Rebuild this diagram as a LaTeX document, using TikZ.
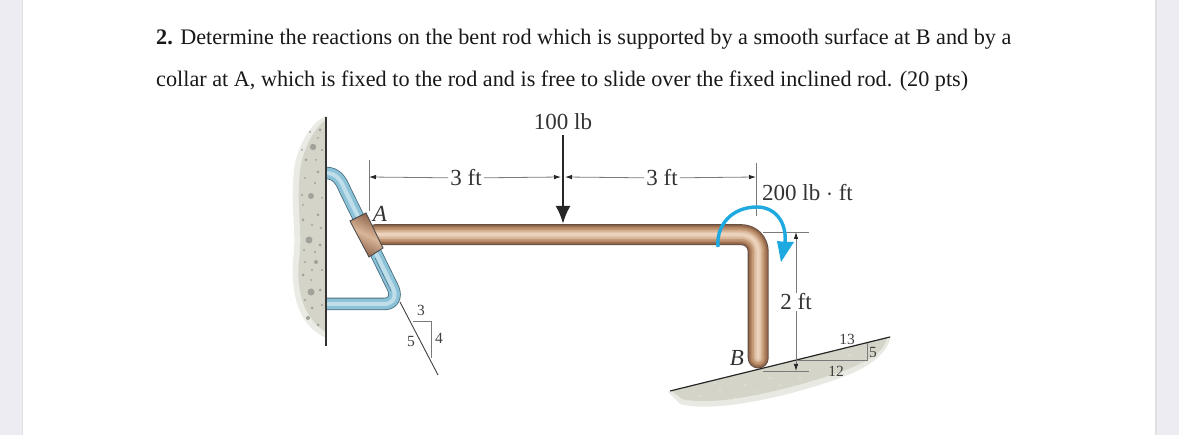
\documentclass[tikz,border=0pt]{standalone}
\usepackage{fontspec}
\setmainfont{Liberation Serif}
\usetikzlibrary{arrows.meta}
\definecolor{copperD}{HTML}{5E4E42}
\definecolor{copperS}{HTML}{8A6048}
\definecolor{copperM}{HTML}{B58662}
\definecolor{copperL}{HTML}{D9B597}
\definecolor{copperH}{HTML}{EBD2BC}
\definecolor{blueD}{HTML}{4A7082}
\definecolor{blueM}{HTML}{8CC2D8}
\definecolor{blueL}{HTML}{BFDEEA}
\definecolor{concrete}{HTML}{D4D4C8}
\definecolor{speck}{HTML}{A2A29A}
\definecolor{moment}{HTML}{1FA9E1}
\definecolor{dimc}{HTML}{7A7A7A}
\definecolor{sideband}{HTML}{ECECF2}
\tikzset{
  x=1pt,y=-1pt,
  heading/.style={anchor=base west,inner sep=0pt,font=\fontsize{22.2}{26}\selectfont,text=black!90},
  lab/.style={inner sep=0pt,font=\fontsize{23}{26}\selectfont,text=black!80},
  itlab/.style={inner sep=0pt,font=\fontsize{23}{26}\selectfont\itshape,text=black!80},
  smalllab/.style={inner sep=0pt,font=\fontsize{15.5}{18}\selectfont,text=black!75},
  dimline/.style={draw=dimc,line width=0.8pt},
  dimarrow/.style={dimline,-{Latex[length=7pt,width=4.5pt,color=black!85]}},
  rodlayer/.style={line cap=round,line join=round},
}
\newcommand{\rodpath}{(375,234.7) -- (741,234.7) .. controls (751,234.7) and (758.2,242) .. (758.2,252) -- (758.2,358)}
\newcommand{\tubepath}{(326,173) .. controls (336,173) and (341,180) .. (345,190) -- (393,288) .. controls (397,297) and (393,304) .. (384,304) -- (326,304)}
\begin{document}
\begin{tikzpicture}
\useasboundingbox (0,0) rectangle (1179,435);
\fill[white] (0,0) rectangle (1179,435);
\fill[sideband] (1157,0) rectangle (1179,435);
\fill[sideband] (0,0) rectangle (22,435);
\fill[black!12] (1155,0) rectangle (1157,435);
\fill[black!12] (22,0) rectangle (23,435);
% heading
\node[heading] (t1) at (156,44.5) {\textbf{2.} Determine the reactions on the bent rod which is supported by a smooth surface at B and by a};
\node[heading] (t2) at (156,87) {collar at A, which is fixed to the rod and is free to slide over the fixed inclined rod. (20 pts)};
% wall
\fill[concrete,opacity=.45] (326,116) .. controls (310,122) and (296,150) .. (294,170) .. controls (290,210) and (297,230) .. (293,260) .. controls (291,295) and (298,325) .. (326,338) -- cycle;
\fill[concrete] (326,120) .. controls (314,127) and (303,150) .. (300,170) .. controls (296,210) and (303,230) .. (299,260) .. controls (296,290) and (303,318) .. (326,332) -- cycle;
\foreach \a/\b/\r in {313/147/3.2,306/160/1.5,311/196/3,318/172/1.5,309/240/3.5,303/220/1.5,318/215/1.5,316/262/2,311/292/3.5,303/275/1.5,320/290/1.5,308/318/2,318/325/1.5,320/130/1.5,302/195/1.2,305/300/1.2,320/245/1.5,312/270/1.2,322/150/1.2,305/178/1,315/183/1.2,322/198/1,303/205/1,312/225/1.2,321/228/1.2,304/250/1.2,315/252/1.2,322/270/1.2,305/262/1,311/280/1,322/305/1.2,312/308/1.5,318/138/1,310/132/1,302/150/1,316/160/1}{
  \fill[speck] (\a,\b) circle (\r);
}
% inclined fixed rod
\coordinate (tip) at (438,375);
\draw[black!75,line width=0.9pt] (400,302) -- (tip);
\draw[blueD,line width=12.5pt,line join=round] \tubepath;
\draw[blueM,line width=10.8pt,line join=round] \tubepath;
\draw[blueL,line width=4pt,line join=round] \tubepath;
\draw[blueD,line width=0.5pt] (375,258) -- (391,291);
% wall line
\draw[black!80,line width=1.2pt] (326,117) -- (326,346);
% slope triangle 3-4-5
\draw[dimline] (413,321) -- (431,321) -- (431,358);
% bent rod, layered so the shading follows the bend
\draw[copperD,line width=21pt,rodlayer] \rodpath;
\draw[copperS,line width=19.4pt,rodlayer] \rodpath;
\draw[copperS!60!copperM,line width=17.5pt,rodlayer] \rodpath;
\draw[copperM,line width=15pt,rodlayer] \rodpath;
\draw[copperM!60!copperL,line width=12pt,rodlayer] \rodpath;
\draw[copperL,line width=8.5pt,rodlayer] \rodpath;
\draw[copperL!50!copperH,line width=5.5pt,rodlayer] \rodpath;
\draw[copperH,line width=3pt,rodlayer] \rodpath;
% collar
\shade[left color=copperS,right color=copperS,middle color=copperL,shading angle=-26] (350,221) -- (366,213) -- (383,248) -- (369,257) -- cycle;
\draw[draw=black!70,line width=0.9pt] (350,221) -- (366,213) -- (383,248) -- (369,257) -- cycle;
% ground
\fill[concrete,opacity=.5] (668,392) -- (891,336) .. controls (888,352) and (872,366) .. (845,376) .. controls (810,390) and (720,415) .. (680,404) -- cycle;
\fill[concrete] (672,391) -- (887,338) .. controls (884,352) and (868,362) .. (840,372) .. controls (800,386) and (720,408) .. (682,399) -- cycle;
\foreach \a/\b in {720/390,745/385,770/378,790/372,810/370,850/355,860/362,700/396,735/398,780/385,830/368,870/350,755/392,715/383,800/378}{\fill[white] (\a,\b) circle (0.7);}
\draw[black!85,line width=1.2pt] (670,391) -- (890,337);
% 12/5 triangle
\draw[dimline] (797,360) -- (867,360) -- (867,343);
% 2 ft dims
\node[lab,fill=white,inner xsep=1pt,inner ysep=1pt] (l2) at (796,302) {2 ft};
\draw[dimline] (763,232) -- (809,232);
\draw[dimline] (763,371) -- (809,371);
\coordinate (d2t) at (796,232);
\coordinate (d2b) at (796,371);
\draw[dimarrow] (l2) -- (d2t);
\draw[dimarrow] (l2) -- (d2b);
% top dims
\draw[dimline] (369,160) -- (369,211);
\draw[dimline] (756,163) -- (756,216);
\coordinate (ds1) at (369,177);
\coordinate (dm1) at (561,177);
\coordinate (dm2) at (565,177);
\coordinate (ds2) at (756,177);
\node[lab] (f1) at (466,178) {3 ft};
\node[lab] (f2) at (662,178) {3 ft};
\draw[dimarrow,shorten <=2pt] (f1) -- (ds1);
\draw[dimarrow,shorten <=2pt] (f1) -- (dm1);
\draw[dimarrow,shorten <=2pt] (f2) -- (dm2);
\draw[dimarrow,shorten <=2pt] (f2) -- (ds2);
% 100 lb
\coordinate (ft) at (563,135);
\coordinate (fb) at (563,224);
\draw[black!85,line width=2.8pt,-{Latex[length=18pt,width=15pt]}] (ft) -- (fb);
% moment
\draw[moment,line width=3.4pt] (718,247) .. controls (716,225) and (732,207) .. (757,207) .. controls (775,207) and (787,222) .. (785,243);
\fill[moment] (781,262) -- (777,241) -- (786,242) -- (794,242) -- cycle;
% labels
\node[lab] (l100) at (563,122) {100 lb};
\node[lab] (lm) at (807.5,193) {200 lb $\cdot$ ft};
\node[itlab] (la) at (380,214) {A};
\node[itlab] (lb) at (737,358) {B};
\node[smalllab] (n3) at (421,310) {3};
\node[smalllab] (n4) at (439,338) {4};
\node[smalllab] (n5) at (411,342) {5};
\node[smalllab] (n13) at (847,339) {13};
\node[smalllab] (n5b) at (873,353) {5};
\node[smalllab] (n12) at (836,371) {12};
\end{tikzpicture}
\end{document}
